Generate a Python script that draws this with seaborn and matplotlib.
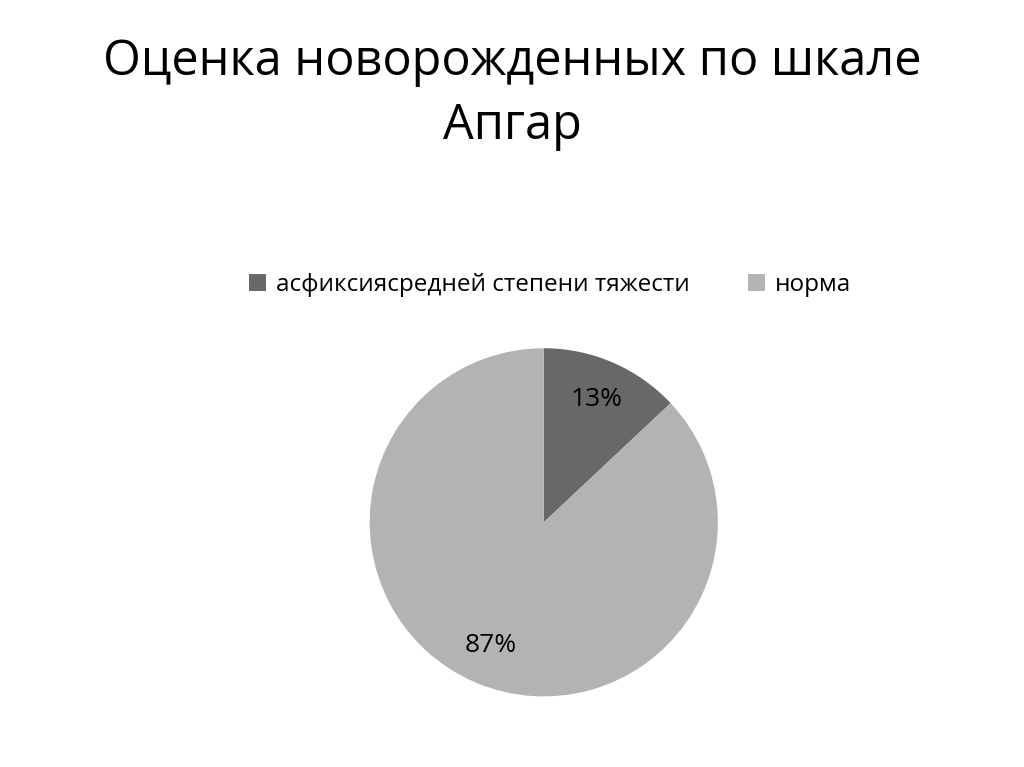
import matplotlib
matplotlib.use("Agg")
import matplotlib.pyplot as plt
import seaborn as sns

categories = ["асфиксиясредней степени тяжести", "норма"]
shares = [13, 87]
colors = ["#686868", "#b3b3b3"]
title = "Оценка новорожденных по шкале\nАпгар"

sns.set_theme(style="white")
plt.rcParams["font.family"] = ["Open Sans", "DejaVu Sans"]
plt.rcParams["text.color"] = "black"

fig = plt.figure(figsize=(10.24, 7.67), dpi=100)
ax = fig.add_axes([0.361, 0.092, 0.34, 0.454])

wedges, texts, autotexts = ax.pie(
    shares, colors=colors, startangle=90, counterclock=False,
    autopct="%1.0f%%", pctdistance=0.77,
    wedgeprops={"linewidth": 0},
    textprops={"fontsize": 19, "color": "black"},
)
ax.set_xlim(-1, 1)
ax.set_ylim(-1, 1)
ax.set_aspect("equal")

fig.legend(wedges, categories, loc="center", bbox_to_anchor=(0.537, 0.629),
           ncol=2, frameon=False, fontsize=17.5, handlelength=0.7, handleheight=0.7,
           handletextpad=0.4, columnspacing=2.4, labelcolor="black")

fig.text(0.5, 0.877, title, ha="center", va="center", fontsize=35, linespacing=1.4,
         color="black")

fig.savefig("out.png", dpi=100, facecolor="white")
